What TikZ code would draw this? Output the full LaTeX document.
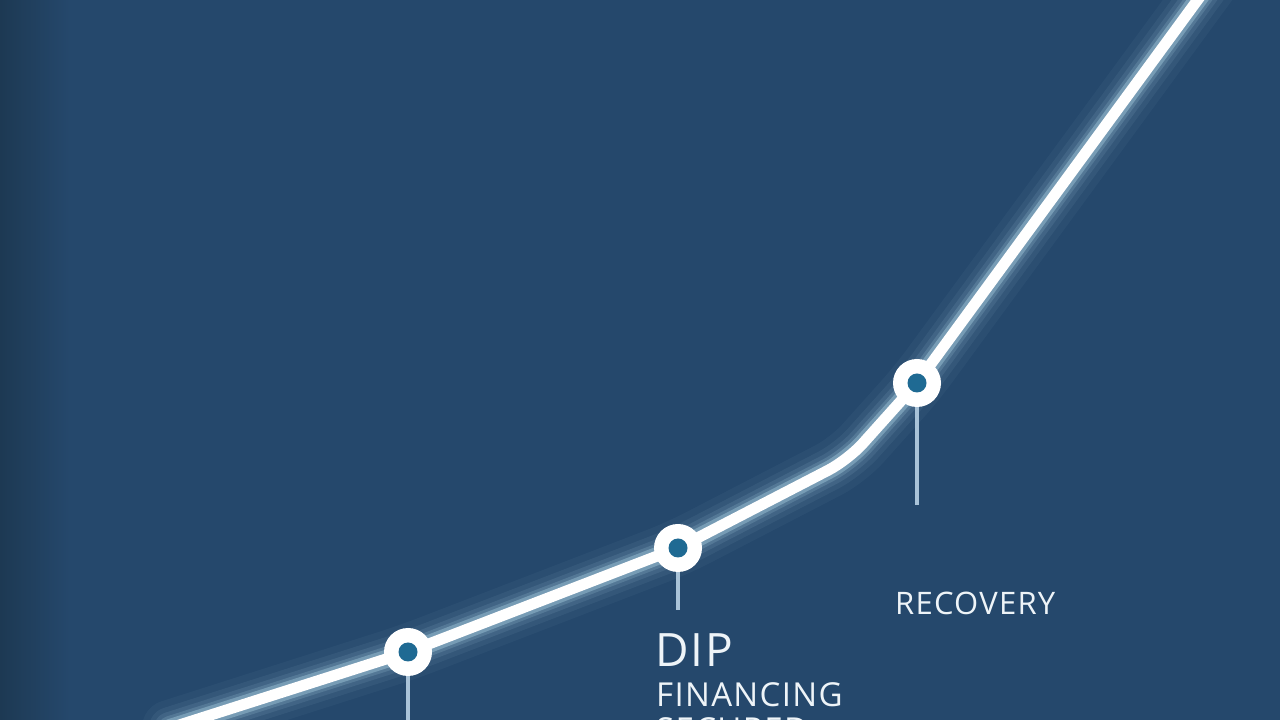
\documentclass[tikz,border=0pt]{standalone}
\usepackage{fontspec}
\setmainfont{Open Sans}
\newfontfamily\labfont{Open Sans}[LetterSpace=4]
\begin{document}
\begin{tikzpicture}[x=1pt,y=1pt,
  glow/.style={line cap=round, line join=round, rounded corners=22pt},
  ring/.style={circle, fill=white, minimum size=48pt, inner sep=0pt},
  stem/.style={draw=stemc, line width=4pt},
  lab/.style={text=labc, anchor=base west, inner sep=0pt}]
\definecolor{bg}{HTML}{25486C}
\definecolor{bgdark}{HTML}{1D3953}
\definecolor{glowc}{HTML}{C8F2FF}
\definecolor{dotc}{HTML}{1F6A93}
\definecolor{stemc}{HTML}{A9C3D8}
\definecolor{labc}{HTML}{EEF4F8}
\useasboundingbox (0,0) rectangle (1280,720);
\clip (0,0) rectangle (1280,720);
\fill[bg] (0,0) rectangle (1280,720);
\shade[left color=bgdark, right color=bg] (0,0) rectangle (70,720);
% path coordinates
\coordinate (s) at (170,-8);
\coordinate (a) at (408,68);
\coordinate (b) at (678,172);
\coordinate (c) at (848,260);
\coordinate (d) at (917,337);
\coordinate (e) at (1210,737);
% glow layers
\foreach \w/\o in {56/0.04, 42/0.06, 32/0.09, 24/0.14, 18/0.3}{
  \draw[glow, glowc, opacity=\o, line width=\w pt] (s) -- (a) -- (b) -- (c) -- (d) -- (e);
}
\draw[glow, white, line width=11pt] (s) -- (a) -- (b) -- (c) -- (d) -- (e);
% markers
\node[ring] (m1) at (a) {};
\node[ring] (m2) at (b) {};
\node[ring] (m3) at (d) {};
\fill[dotc] (m1.center) circle (9.5);
\fill[dotc] (m2.center) circle (9.5);
\fill[dotc] (m3.center) circle (9.5);
% stems
\coordinate (t1) at (408,-5);
\coordinate (t2) at (678,110);
\coordinate (t3) at (917,215);
\draw[stem] (m1.south) -- (t1);
\draw[stem] (m2.south) -- (t2);
\draw[stem] (m3.south) -- (t3);
% labels
\node[lab, font=\labfont\fontsize{31}{36}\selectfont] (rec) at (895,105) {RECOVERY};
\node[lab, font=\labfont\fontsize{46}{54}\selectfont] (dip) at (655,53) {DIP};
\node[lab, font=\labfont\fontsize{33}{40}\selectfont] (fin) at (656,13) {FINANCING};
\node[lab, font=\labfont\fontsize{33}{40}\selectfont] (sec) at (656,-22) {SECURED};
\end{tikzpicture}
\end{document}
